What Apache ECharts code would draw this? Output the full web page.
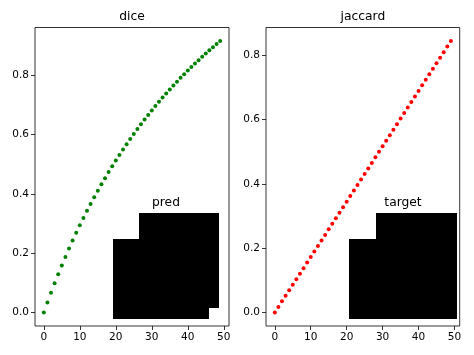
<!DOCTYPE html>
<html>
<head>
<meta charset="utf-8">
<script src="https://cdn.jsdelivr.net/npm/echarts@6/dist/echarts.min.js"></script>
<style>html,body{margin:0;padding:0;background:#fff;}#c{width:474px;height:355px;}</style>
</head>
<body>
<div id="c"></div>
<script>
// x positions (epoch index)
const steps = [0,1,2,3,4,5,6,7,8,9,10,11,12,13,14,15,16,17,18,19,20,21,22,23,24,25,26,27,28,29,30,31,32,33,34,35,36,37,38,39,40,41,42,43,44,45,46,47,48,49];
const diceValues = [0,0.0339,0.0667,0.0984,0.1290,0.1587,0.1875,0.2154,0.2424,0.2687,0.2941,0.3188,0.3429,0.3662,0.3889,0.4110,0.4324,0.4533,0.4737,0.4935,0.5128,0.5316,0.5500,0.5679,0.5854,0.6024,0.6190,0.6353,0.6512,0.6667,0.6818,0.6966,0.7111,0.7253,0.7391,0.7527,0.7660,0.7789,0.7917,0.8041,0.8163,0.8283,0.8400,0.8515,0.8627,0.8738,0.8846,0.8952,0.9057,0.9159];
const jaccardValues = [0,0.0172,0.0345,0.0517,0.0690,0.0862,0.1034,0.1207,0.1379,0.1552,0.1724,0.1897,0.2069,0.2241,0.2414,0.2586,0.2759,0.2931,0.3103,0.3276,0.3448,0.3621,0.3793,0.3966,0.4138,0.4310,0.4483,0.4655,0.4828,0.5000,0.5172,0.5345,0.5517,0.5690,0.5862,0.6034,0.6207,0.6379,0.6552,0.6724,0.6897,0.7069,0.7241,0.7414,0.7586,0.7759,0.7931,0.8103,0.8276,0.8448];
const xTicks = [0,10,20,30,40,50];
const yTicks = [0,0.2,0.4,0.6,0.8];
// inset images: black blocks [x0,y0,x1,y1] in image units (0-100, y downward)
const predBlocks = [[25,0,100,25],[0,25,100,90],[0,90,90,100]];
const targetBlocks = [[25,0,100,25],[0,25,100,100]];
const titles = ['dice','jaccard','pred','target'];

const FONT = 'DejaVu Sans';
const chart = echarts.init(document.getElementById('c'), null, {renderer:'canvas'});

function mainX(gi){
  return {gridIndex:gi,type:'value',min:-2.45,max:51.45,position:'bottom',
    axisLine:{show:false,onZero:false},splitLine:{show:false},
    axisTick:{show:true,inside:false,length:4,lineStyle:{color:'#000',width:0.8},customValues:xTicks},
    axisLabel:{customValues:xTicks,color:'#000',fontFamily:FONT,fontSize:10.5,margin:6,formatter:v=>String(Math.round(v))}};
}
function mainY(gi,min,max){
  return {gridIndex:gi,type:'value',min:min,max:max,position:'left',
    axisLine:{show:false,onZero:false},splitLine:{show:false},
    axisTick:{show:true,inside:false,length:4,lineStyle:{color:'#000',width:0.8},customValues:yTicks},
    axisLabel:{customValues:yTicks,color:'#000',fontFamily:FONT,fontSize:10.5,margin:6,formatter:v=>v.toFixed(1)}};
}
function insetAxisX(gi){return {gridIndex:gi,type:'value',min:0,max:100,show:false};}
function insetAxisY(gi){return {gridIndex:gi,type:'value',min:0,max:100,inverse:true,show:false};}

function blockRender(params, api){
  const p0 = api.coord([api.value(0), api.value(1)]);
  const p1 = api.coord([api.value(2), api.value(3)]);
  const x0 = Math.round(Math.min(p0[0],p1[0])), x1 = Math.round(Math.max(p0[0],p1[0]));
  const y0 = Math.round(Math.min(p0[1],p1[1])), y1 = Math.round(Math.max(p0[1],p1[1]));
  return {type:'rect',shape:{x:x0,y:y0,width:x1-x0,height:y1-y0},
    style:{fill:'#000'}};
}

const option = {
  animation:false,
  backgroundColor:'#fff',
  grid:[
    {left:35,top:27.5,width:194,height:298.5,show:true,borderColor:'#000',borderWidth:0.8,backgroundColor:'transparent'},
    {left:266,top:27.5,width:193.7,height:298.5,show:true,borderColor:'#000',borderWidth:0.8,backgroundColor:'transparent'},
    {left:112.7,top:212.7,width:106.6,height:106.3,show:false},
    {left:349.3,top:212.7,width:107.4,height:106.3,show:false}
  ],
  xAxis:[mainX(0),mainX(1),insetAxisX(2),insetAxisX(3)],
  yAxis:[mainY(0,-0.0458,0.9617),mainY(1,-0.04224,0.88707),insetAxisY(2),insetAxisY(3)],
  series:[
    {type:'scatter',xAxisIndex:0,yAxisIndex:0,symbol:'circle',symbolSize:4,itemStyle:{color:'#008000',opacity:1},
      data:steps.map((s,i)=>[s,diceValues[i]]),z:2},
    {type:'scatter',xAxisIndex:1,yAxisIndex:1,symbol:'circle',symbolSize:4,itemStyle:{color:'#ff0000',opacity:1},
      data:steps.map((s,i)=>[s,jaccardValues[i]]),z:2},
    {type:'custom',xAxisIndex:2,yAxisIndex:2,renderItem:blockRender,encode:{x:[0,2],y:[1,3]},data:predBlocks,z:5},
    {type:'custom',xAxisIndex:3,yAxisIndex:3,renderItem:blockRender,encode:{x:[0,2],y:[1,3]},data:targetBlocks,z:5}
  ],
  graphic:[
    {type:'text',x:132,y:17,style:{text:titles[0],fontFamily:FONT,fontSize:12.3,fill:'#000',align:'center',verticalAlign:'middle'}},
    {type:'text',x:362.9,y:17,style:{text:titles[1],fontFamily:FONT,fontSize:12.3,fill:'#000',align:'center',verticalAlign:'middle'}},
    {type:'text',x:166,y:203,style:{text:titles[2],fontFamily:FONT,fontSize:12.3,fill:'#000',align:'center',verticalAlign:'middle'}},
    {type:'text',x:403,y:203,style:{text:titles[3],fontFamily:FONT,fontSize:12.3,fill:'#000',align:'center',verticalAlign:'middle'}}
  ]
};
chart.setOption(option);
</script>
</body>
</html>
